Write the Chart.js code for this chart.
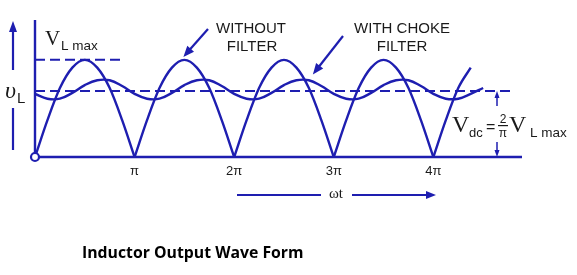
<!DOCTYPE html>
<html>
<head>
<meta charset="utf-8">
<script src="https://cdn.jsdelivr.net/npm/chart.js@4.4.1/dist/chart.umd.min.js"></script>
<style>
  html, body { margin: 0; background: #fff; }
  #wrap { width: 577px; height: 275px; }
</style>
</head>
<body>
<div id="wrap"><canvas id="waveChart"></canvas></div>
<script>
// x values are in units of pi, y values relative to V L max
const humpX = [0, 0.125, 0.25, 0.375, 0.5, 0.625, 0.75, 0.875, 1];
const humpY = [0, 0.38, 0.71, 0.92, 1, 0.92, 0.71, 0.38, 0];
const humpStarts = [0, 1, 2, 3, 4];
const lastHumpEnd = 4.375;

// output with choke filter
const rippleX = [0, 0.125, 0.25, 0.375, 0.5, 0.625, 0.75, 0.875,
  1, 1.125, 1.25, 1.375, 1.5, 1.625, 1.75, 1.875,
  2, 2.125, 2.25, 2.375, 2.5, 2.625, 2.75, 2.875,
  3, 3.125, 3.25, 3.375, 3.5, 3.625, 3.75, 3.875,
  4, 4.125, 4.25, 4.375, 4.5];
const rippleY = [0.65, 0.6, 0.6, 0.66, 0.74, 0.79, 0.79, 0.73,
  0.65, 0.6, 0.6, 0.66, 0.74, 0.79, 0.79, 0.73,
  0.65, 0.6, 0.6, 0.66, 0.74, 0.79, 0.79, 0.73,
  0.65, 0.6, 0.6, 0.66, 0.74, 0.79, 0.79, 0.73,
  0.65, 0.6, 0.6, 0.65, 0.71];

const vMax = 1;
const vDc = 0.68;
const vMaxDashEnd = 0.87;
const vDcDashEnd = 4.8;
const tickValues = [1, 2, 3, 4];
const tickLabels = ["π", "2π", "3π", "4π"];

const BLUE = "#1e1eb0";
const INK = "#1a1a1a";
const LW = 2.4;

const datasets = [];

// Without filter: one dataset per half cycle so the cusps stay sharp
humpStarts.forEach((s) => {
  const pts = humpX
    .map((x, i) => ({ x: s + x, y: humpY[i] }))
    .filter((p) => p.x <= lastHumpEnd + 1e-9);
  datasets.push({
    data: pts,
    borderColor: BLUE,
    borderWidth: LW,
    pointRadius: 0,
    cubicInterpolationMode: "monotone",
  });
});

datasets.push({
  data: rippleX.map((x, i) => ({ x: x, y: rippleY[i] })),
  borderColor: BLUE,
  borderWidth: LW,
  pointRadius: 0,
  tension: 0.4,
});

datasets.push({
  data: [{ x: 0, y: vMax }, { x: vMaxDashEnd, y: vMax }],
  borderColor: BLUE,
  borderWidth: 2,
  borderDash: [10, 5],
  pointRadius: 0,
});

datasets.push({
  data: [{ x: 0, y: vDc }, { x: vDcDashEnd, y: vDc }],
  borderColor: BLUE,
  borderWidth: 2,
  borderDash: [10, 5],
  pointRadius: 0,
});

function arrowHead(ctx, x1, y1, x2, y2, len, half) {
  const a = Math.atan2(y2 - y1, x2 - x1);
  ctx.beginPath();
  ctx.moveTo(x2, y2);
  ctx.lineTo(x2 - len * Math.cos(a) + half * Math.sin(a), y2 - len * Math.sin(a) - half * Math.cos(a));
  ctx.lineTo(x2 - len * Math.cos(a) - half * Math.sin(a), y2 - len * Math.sin(a) + half * Math.cos(a));
  ctx.closePath();
  ctx.fill();
}

function arrow(ctx, x1, y1, x2, y2, len = 10, half = 4) {
  const a = Math.atan2(y2 - y1, x2 - x1);
  ctx.beginPath();
  ctx.moveTo(x1, y1);
  ctx.lineTo(x2 - len * 0.8 * Math.cos(a), y2 - len * 0.8 * Math.sin(a));
  ctx.stroke();
  arrowHead(ctx, x1, y1, x2, y2, len, half);
}

const axesPlugin = {
  id: "axesPlugin",
  beforeDatasetsDraw(chart) {
    const { ctx, chartArea, scales } = chart;
    const x0 = scales.x.getPixelForValue(0);
    const y0 = scales.y.getPixelForValue(0);
    ctx.save();
    ctx.strokeStyle = BLUE;
    ctx.lineWidth = LW;
    ctx.beginPath();
    ctx.moveTo(x0, y0);
    ctx.lineTo(x0, chartArea.top);
    ctx.moveTo(x0, y0);
    ctx.lineTo(chartArea.right, y0);
    ctx.stroke();
    ctx.restore();
  },
  afterDatasetsDraw(chart) {
    const { ctx, scales } = chart;
    const xs = scales.x, ys = scales.y;
    const x0 = xs.getPixelForValue(0);
    const y0 = ys.getPixelForValue(0);
    ctx.save();

    // origin circle
    ctx.strokeStyle = BLUE;
    ctx.fillStyle = "#fff";
    ctx.lineWidth = 2.2;
    ctx.beginPath();
    ctx.arc(x0, y0, 4, 0, Math.PI * 2);
    ctx.fill();
    ctx.stroke();

    // tick labels
    ctx.fillStyle = INK;
    ctx.font = "13px 'Liberation Sans'";
    ctx.textAlign = "center";
    ctx.textBaseline = "middle";
    tickValues.forEach((v, i) => {
      ctx.fillText(tickLabels[i], xs.getPixelForValue(v), y0 + 14);
    });

    // wt arrow
    ctx.strokeStyle = BLUE;
    ctx.fillStyle = BLUE;
    ctx.lineWidth = 2;
    ctx.beginPath();
    ctx.moveTo(237, 195);
    ctx.lineTo(321, 195);
    ctx.stroke();
    arrow(ctx, 352, 195, 436, 195, 10, 4);
    ctx.fillStyle = INK;
    ctx.font = "15px 'Liberation Serif'";
    ctx.fillText("ωt", 336, 194);

    // left vL arrow
    ctx.strokeStyle = BLUE;
    ctx.fillStyle = BLUE;
    ctx.lineWidth = 2.2;
    arrow(ctx, 13, 70, 13, 21, 11, 4);
    ctx.beginPath();
    ctx.moveTo(13, 108);
    ctx.lineTo(13, 150);
    ctx.stroke();

    ctx.textAlign = "left";
    ctx.textBaseline = "alphabetic";
    ctx.fillStyle = INK;
    ctx.font = "italic 24px 'Liberation Serif'";
    ctx.fillText("υ", 5, 98);
    ctx.font = "15px 'Liberation Sans'";
    ctx.fillText("L", 17, 103);

    // V L max
    ctx.font = "21px 'Liberation Serif'";
    ctx.fillText("V", 45, 45);
    ctx.font = "13.5px 'Liberation Sans'";
    ctx.fillText("L max", 61, 50);

    // callouts
    ctx.font = "15px 'Liberation Sans'";
    ctx.textAlign = "center";
    ctx.fillText("WITHOUT", 251, 33);
    ctx.fillText("FILTER", 252, 51);
    ctx.fillText("WITH CHOKE", 402, 33);
    ctx.fillText("FILTER", 402, 51);

    ctx.strokeStyle = BLUE;
    ctx.fillStyle = BLUE;
    arrow(ctx, 208, 29, xs.getPixelForValue(1.5) - 1, ys.getPixelForValue(1.03), 11, 4.5);
    arrow(ctx, 343, 36, xs.getPixelForValue(2.79), ys.getPixelForValue(0.85), 11, 4.5);

    // Vdc dimension
    const xd = 497;
    const yd = ys.getPixelForValue(vDc);
    ctx.lineWidth = 1.5;
    arrow(ctx, xd, 106, xd, yd, 7, 2.5);
    arrow(ctx, xd, 142, xd, y0, 7, 2.5);

    ctx.fillStyle = INK;
    ctx.textAlign = "left";
    ctx.font = "24px 'Liberation Serif'";
    ctx.fillText("V", 452, 132);
    ctx.font = "13px 'Liberation Sans'";
    ctx.fillText("dc", 469, 137);
    ctx.font = "16px 'Liberation Sans'";
    ctx.fillText("=", 486, 132);
    ctx.font = "12px 'Liberation Sans'";
    ctx.textAlign = "center";
    ctx.fillText("2", 503, 123);
    ctx.fillText("π", 503, 137);
    ctx.fillRect(498, 125, 10, 1.2);
    ctx.textAlign = "left";
    ctx.font = "24px 'Liberation Serif'";
    ctx.fillText("V", 509, 132);
    ctx.font = "13.5px 'Liberation Sans'";
    ctx.fillText("L max", 530, 137);

    // caption
    ctx.fillStyle = "#000";
    ctx.font = "bold 15.8px 'Open Sans'";
    ctx.fillText("Inductor Output Wave Form", 82, 258);

    ctx.restore();
  },
};

new Chart(document.getElementById("waveChart"), {
  type: "line",
  data: { datasets: datasets },
  options: {
    responsive: true,
    maintainAspectRatio: false,
    animation: false,
    layout: { padding: { left: 35, right: 55, top: 20, bottom: 118 } },
    scales: {
      x: { type: "linear", min: 0, max: 4.89, display: false },
      y: { min: 0, max: 1.41, display: false },
    },
    plugins: {
      legend: { display: false },
      tooltip: { enabled: false },
    },
  },
  plugins: [axesPlugin],
});
</script>
</body>
</html>
